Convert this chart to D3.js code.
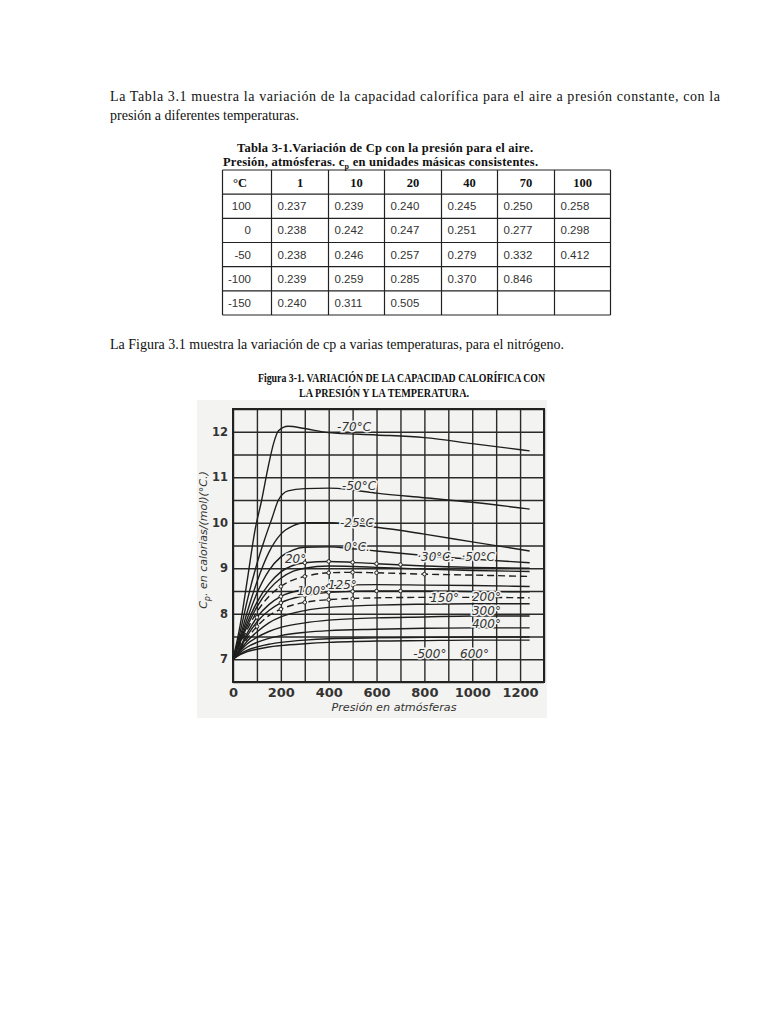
<!DOCTYPE html>
<meta charset="utf-8">
<style>
  body { margin: 0; background: #fff; }
  svg { display: block; }
  .serif { font-family: "Liberation Serif", "Times New Roman", serif; fill: #111; }
  .cell { font-family: "Liberation Sans", Arial, sans-serif; font-size: 11.5px; fill: #333; }
  .tick-lbl { font-family: "DejaVu Sans", sans-serif; font-weight: bold; fill: #333; }
  .curve-lbl { font-family: "DejaVu Sans", sans-serif; font-style: italic; font-size: 12px; fill: #333;
               stroke: #f3f3f1; stroke-width: 3px; paint-order: stroke; }
</style>
<body>
<script src="https://d3js.org/d3.v7.min.js"></script>
<script>

// ---------- Tabla 3-1 (aire) ----------
var tableCols = ["°C", "1", "10", "20", "40", "70", "100"];
var tableTemps = ["100", "0", "-50", "-100", "-150"];
var cpAir100 = ["0.237", "0.239", "0.240", "0.245", "0.250", "0.258"];
var cpAir0   = ["0.238", "0.242", "0.247", "0.251", "0.277", "0.298"];
var cpAirM50 = ["0.238", "0.246", "0.257", "0.279", "0.332", "0.412"];
var cpAirM100 = ["0.239", "0.259", "0.285", "0.370", "0.846", ""];
var cpAirM150 = ["0.240", "0.311", "0.505", "", "", ""];
var tableRows = [cpAir100, cpAir0, cpAirM50, cpAirM100, cpAirM150];

// ---------- Figura 3-1 (nitrógeno): [presión atm, Cp] ----------
var xTicks = [0, 200, 400, 600, 800, 1000, 1200];
var yTicks = [7, 8, 9, 10, 11, 12];

var n2M70 = [[0,7],[30,7.75],[60,8.75],[92,9.84],[120,10.5],[146,11.2],[170,11.75],[190,12.02],[230,12.12],[300,12.07],[400,11.98],[600,11.93],[800,11.87],[1000,11.74],[1240,11.58]];
var n2M50 = [[0,7],[30,7.6],[60,8.3],[100,9.1],[130,9.6],[163,10.1],[190,10.5],[230,10.7],[300,10.75],[400,10.76],[500,10.72],[600,10.65],[800,10.55],[1000,10.45],[1240,10.3]];
var n2M25 = [[0,7],[30,7.5],[60,8.05],[100,8.7],[150,9.35],[200,9.75],[250,9.93],[300,10.0],[400,10.0],[500,9.95],[600,9.9],[800,9.75],[1000,9.58],[1240,9.38]];
var n2T0   = [[0,7],[30,7.45],[60,7.9],[100,8.45],[150,8.95],[200,9.25],[250,9.4],[300,9.46],[400,9.47],[500,9.43],[600,9.38],[800,9.28],[1000,9.2],[1240,9.12]];
var n2T20  = [[0,7],[30,7.4],[60,7.8],[100,8.25],[150,8.65],[200,8.92],[250,9.06],[300,9.12],[400,9.15],[500,9.13],[600,9.1],[800,9.05],[1000,9.02],[1240,9.0]];
var n2T30  = [[0,7],[30,7.37],[60,7.73],[100,8.15],[150,8.53],[200,8.78],[250,8.93],[300,9.0],[400,9.05],[500,9.04],[600,9.02],[800,8.98],[1000,8.95],[1240,8.93]];
var n2T50  = [[0,7],[30,7.33],[60,7.66],[100,8.04],[150,8.38],[200,8.6],[250,8.74],[300,8.82],[400,8.9],[500,8.91],[600,8.9],[800,8.87],[1000,8.85],[1240,8.82]];
var n2T100 = [[0,7],[30,7.27],[60,7.58],[100,7.92],[150,8.2],[200,8.38],[300,8.54],[400,8.61],[600,8.64],[800,8.63],[1000,8.62],[1240,8.6]];
var n2T125 = [[0,7],[30,7.24],[60,7.52],[100,7.82],[150,8.07],[200,8.24],[300,8.4],[400,8.47],[600,8.5],[800,8.5],[1000,8.49],[1240,8.48]];
var n2T150 = [[0,7],[30,7.22],[60,7.46],[100,7.72],[150,7.96],[200,8.1],[300,8.25],[400,8.31],[600,8.35],[800,8.36],[1000,8.36],[1240,8.35]];
var n2T200 = [[0,7],[30,7.2],[60,7.4],[100,7.6],[150,7.8],[200,7.93],[300,8.07],[400,8.14],[600,8.19],[800,8.21],[1000,8.22],[1240,8.22]];
var n2T300 = [[0,7],[30,7.18],[60,7.34],[100,7.48],[150,7.61],[200,7.7],[300,7.8],[400,7.86],[600,7.91],[800,7.93],[1000,7.95],[1240,7.95]];
var n2T400 = [[0,7],[30,7.15],[60,7.27],[100,7.37],[150,7.46],[200,7.52],[300,7.59],[400,7.63],[600,7.66],[800,7.68],[1000,7.69],[1240,7.69]];
var n2T500 = [[0,7],[30,7.12],[60,7.2],[100,7.27],[150,7.33],[200,7.37],[300,7.42],[400,7.45],[600,7.47],[800,7.48],[1000,7.49],[1240,7.49]];
var n2T600 = [[0,7],[30,7.1],[60,7.17],[100,7.22],[150,7.27],[200,7.3],[300,7.34],[400,7.37],[600,7.4],[800,7.41],[1000,7.42],[1240,7.42]];

var curves = [n2M70, n2M50, n2M25, n2T0, n2T20, n2T30, n2T50, n2T100, n2T125, n2T150, n2T200, n2T300, n2T400, n2T500, n2T600];
var dashedCurves = [n2T50, n2T150];

// puntos experimentales
var obsPoints = [[300,9.12],[400,9.15],[500,9.13],[600,9.1],[700,9.08],
                 [200,8.6],[300,8.82],[400,8.9],[500,8.91],[600,8.9],[800,8.87],
                 [100,7.92],[200,8.38],[300,8.54],[400,8.61],[500,8.63],
                 [200,8.24],[300,8.4],[400,8.47],[500,8.49],[600,8.5],[700,8.5],
                 [100,7.72],[200,8.1],[300,8.25],[400,8.31],[500,8.33]];

// etiquetas: [texto, presión, Cp]
var curveLabels = [["-70°C", 435, 12.01], ["-50°C", 456, 10.73], ["-25°C", 447, 9.9], ["0°C.", 464, 9.37],
                   ["20°", 217, 9.11], ["100°", 268, 8.41], ["125°", 397, 8.54], ["·30°C.", 770, 9.15],
                   ["·50°C", 955, 9.15], ["150°", 824, 8.26], ["200°", 999, 8.28], ["300°", 999, 7.97],
                   ["400°", 999, 7.68], ["-500°", 753, 7.03], ["600°", 949, 7.03]];

var svg = d3.select("body").append("svg")
    .attr("width", 768)
    .attr("height", 1024);

svg.append("rect").attr("width", 768).attr("height", 1024).attr("fill", "#fff");

// ---------- body text ----------
svg.append("text").attr("class", "serif").attr("x", 110).attr("y", 101)
    .style("font-size", "14px")
    .attr("textLength", 610).attr("lengthAdjust", "spacing")
    .text("La Tabla 3.1 muestra la variación de la capacidad calorífica para el aire a presión constante, con la");
svg.append("text").attr("class", "serif").attr("x", 110).attr("y", 120)
    .style("font-size", "14px")
    .text("presión a diferentes temperaturas.");

// ---------- table ----------
svg.append("text").attr("class", "serif").attr("x", 237).attr("y", 152)
    .style("font-size", "12.5px").style("font-weight", "bold")
    .attr("textLength", 296).attr("lengthAdjust", "spacing")
    .text("Tabla 3-1.Variación de Cp con la presión para el aire.");
var t2 = svg.append("text").attr("class", "serif").attr("x", 223).attr("y", 166)
    .style("font-size", "12.5px").style("font-weight", "bold")
    .attr("textLength", 315).attr("lengthAdjust", "spacing");
t2.append("tspan").text("Presión, atmósferas. c");
t2.append("tspan").attr("dy", 3).style("font-size", "8px").text("p");
t2.append("tspan").attr("dy", -3).text(" en unidades másicas consistentes.");

var colEdges = [222.5, 271.5, 328.5, 384.5, 441.5, 497.5, 554.5, 610.5];
var rowY = d3.scaleLinear().domain([0, 6]).range([170, 315]);

var tbl = svg.append("g").attr("stroke", "#222").attr("stroke-width", 1.2);
colEdges.forEach(function(cx) {
  tbl.append("line").attr("x1", cx).attr("x2", cx).attr("y1", rowY(0)).attr("y2", rowY(6));
});
d3.range(7).forEach(function(i) {
  tbl.append("line").attr("x1", colEdges[0]).attr("x2", colEdges[7]).attr("y1", rowY(i)).attr("y2", rowY(i));
});

svg.selectAll(".hdr").data(tableCols).enter().append("text")
    .attr("class", "serif")
    .attr("x", function(d, i) { return i === 0 ? 233 : (colEdges[i] + colEdges[i + 1]) / 2; })
    .attr("y", rowY(0.5) + 4.5)
    .attr("text-anchor", function(d, i) { return i === 0 ? "start" : "middle"; })
    .style("font-size", "12.5px").style("font-weight", "bold")
    .text(function(d) { return d; });

tableTemps.forEach(function(t, r) {
  svg.append("text").attr("class", "cell")
      .attr("x", 251).attr("y", rowY(r + 1.5) + 4)
      .attr("text-anchor", "end").text(t);
  svg.selectAll(".row" + r).data(tableRows[r]).enter().append("text")
      .attr("class", "cell")
      .attr("x", function(d, i) { return colEdges[i + 1] + 6; })
      .attr("y", rowY(r + 1.5) + 4)
      .text(function(d) { return d; });
});

svg.append("text").attr("class", "serif").attr("x", 110).attr("y", 349)
    .style("font-size", "14px")
    .text("La Figura 3.1 muestra la variación de cp a varias temperaturas, para el nitrógeno.");

// ---------- figure title ----------
svg.append("text").attr("class", "serif").attr("x", 258).attr("y", 382)
    .style("font-size", "11.5px").style("font-weight", "bold")
    .attr("textLength", 287).attr("lengthAdjust", "spacingAndGlyphs")
    .text("Figura 3-1. VARIACIÓN DE LA CAPACIDAD CALORÍFICA CON");
svg.append("text").attr("class", "serif").attr("x", 299).attr("y", 397)
    .style("font-size", "11.5px").style("font-weight", "bold")
    .attr("textLength", 170).attr("lengthAdjust", "spacingAndGlyphs")
    .text("LA PRESIÓN Y LA TEMPERATURA.");

// ---------- chart ----------
svg.append("rect").attr("x", 197).attr("y", 400).attr("width", 350).attr("height", 318)
    .attr("fill", "#f3f3f1");

var x = d3.scaleLinear().domain([0, 1300]).range([233, 544]);
var y = d3.scaleLinear().domain([6.5, 12.5]).range([682, 409]);

var chart = svg.append("g");

// grid
chart.append("g")
    .attr("transform", "translate(0," + y(6.5) + ")")
    .call(d3.axisBottom(x).tickValues(d3.range(0, 1301, 100)).tickSize(-(y(6.5) - y(12.5))).tickFormat(""))
    .call(function(g) { g.select(".domain").remove(); })
    .selectAll("line").attr("stroke", "#2a2a2a").attr("stroke-width", 1.4);
chart.append("g")
    .attr("transform", "translate(" + x(0) + ",0)")
    .call(d3.axisLeft(y).tickValues(d3.range(6.5, 12.51, 0.5)).tickSize(-(x(1300) - x(0))).tickFormat(""))
    .call(function(g) { g.select(".domain").remove(); })
    .selectAll("line").attr("stroke", "#2a2a2a").attr("stroke-width", 1.4);
chart.append("rect").attr("x", x(0)).attr("y", y(12.5))
    .attr("width", x(1300) - x(0)).attr("height", y(6.5) - y(12.5))
    .attr("fill", "none").attr("stroke", "#222").attr("stroke-width", 2);

// tick labels
chart.append("g")
    .attr("transform", "translate(0," + y(6.5) + ")")
    .call(d3.axisBottom(x).tickValues(xTicks).tickSize(0).tickPadding(6).tickFormat(d3.format("d")))
    .call(function(g) { g.select(".domain").remove(); })
    .selectAll("text").attr("class", "tick-lbl").style("font-size", "13px");
chart.append("g")
    .attr("transform", "translate(" + x(0) + ",0)")
    .call(d3.axisLeft(y).tickValues(yTicks).tickSize(0).tickPadding(5).tickFormat(d3.format("d")))
    .call(function(g) { g.select(".domain").remove(); })
    .selectAll("text").attr("class", "tick-lbl").style("font-size", "11.5px");

// curves
var line = d3.line()
    .x(function(d) { return x(d[0]); })
    .y(function(d) { return y(d[1]); })
    .curve(d3.curveMonotoneX);

chart.selectAll(".cp-curve").data(curves).enter().append("path")
    .attr("class", "cp-curve")
    .attr("d", line)
    .attr("fill", "none")
    .attr("stroke", "#1e1e1e")
    .attr("stroke-width", 1.4)
    .attr("stroke-dasharray", function(d) { return dashedCurves.indexOf(d) >= 0 ? "7,4" : null; });

chart.selectAll(".obs").data(obsPoints).enter().append("circle")
    .attr("cx", function(d) { return x(d[0]); })
    .attr("cy", function(d) { return y(d[1]); })
    .attr("r", 1.8)
    .attr("fill", "#f3f3f1").attr("stroke", "#222").attr("stroke-width", 1);

chart.selectAll(".curve-lbl").data(curveLabels).enter().append("text")
    .attr("class", "curve-lbl")
    .attr("x", function(d) { return x(d[1]); })
    .attr("y", function(d) { return y(d[2]); })
    .text(function(d) { return d[0]; });

// axis titles
var yt = chart.append("text")
    .attr("transform", "translate(207," + 540 + ") rotate(-90)")
    .attr("text-anchor", "middle")
    .style("font-family", "DejaVu Sans, sans-serif").style("font-style", "italic")
    .style("font-size", "11px").attr("fill", "#333");
yt.append("tspan").text("C");
yt.append("tspan").attr("dy", 3).style("font-size", "8px").text("p");
yt.append("tspan").attr("dy", -3).text(". en calorias/(mol)(°C.)");

chart.append("text")
    .attr("x", 394).attr("y", 711)
    .attr("text-anchor", "middle")
    .style("font-family", "DejaVu Sans, sans-serif").style("font-style", "italic")
    .style("font-size", "11px").attr("fill", "#333")
    .attr("textLength", 125).attr("lengthAdjust", "spacingAndGlyphs")
    .text("Presión en atmósferas");

</script>
</body>
